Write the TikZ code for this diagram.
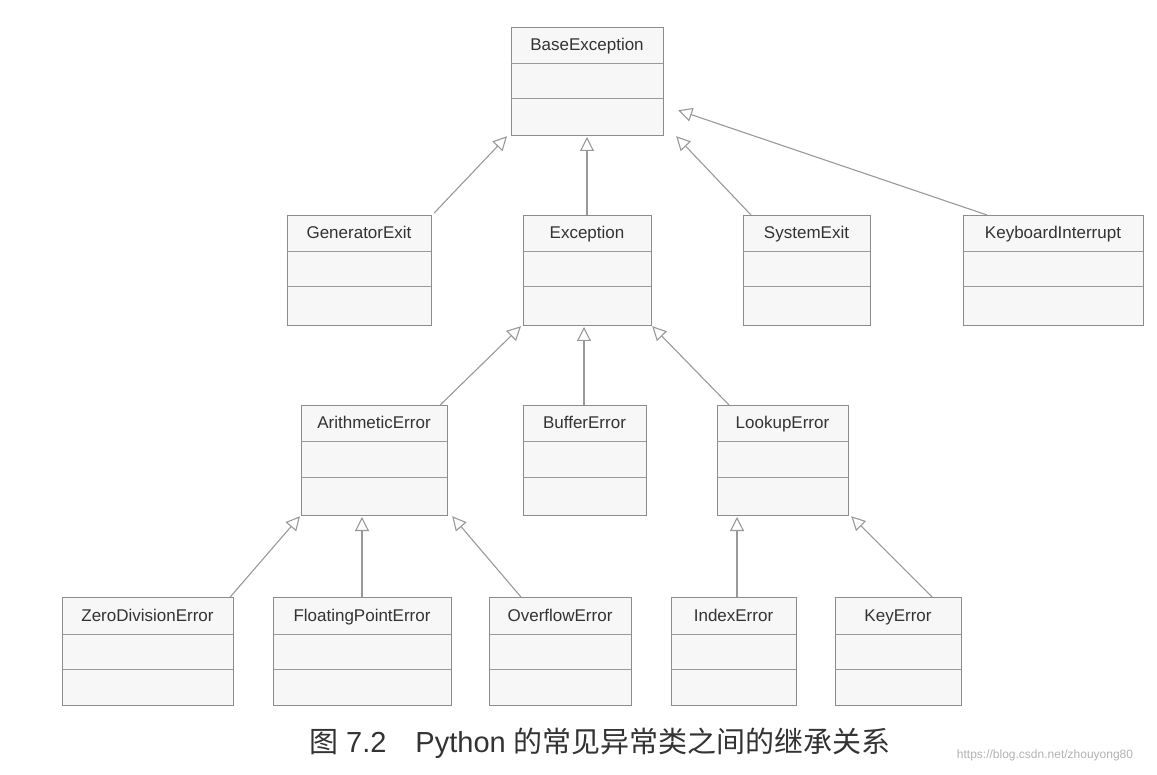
\documentclass[tikz,border=0pt]{standalone}
\usepackage{fontspec}
\setmainfont{Liberation Sans}
\newfontfamily\cjk{Noto Sans CJK SC}
\usetikzlibrary{arrows.meta,calc}
\begin{document}
\begin{tikzpicture}[x=1pt,y=-1pt,
  cls/.style={draw=black!45,fill=black!3,line width=1.2pt,anchor=north west,inner sep=0pt},
  lbl/.style={text=black!80,font=\fontsize{17}{20}\selectfont,anchor=base},
  inh/.style={draw=black!40,line width=1.1pt,-{Triangle[open,length=14pt,width=14pt,fill=white]}},
  sep/.style={draw=black!40,line width=1pt}]
\useasboundingbox (0,0) rectangle (1157,775);
\newcommand\umlbox[6]{% name, x1,y1,x2,y2, text
  \node[cls,minimum width=#4-#2,minimum height=#5-#3] (#1) at (#2,#3) {};
  \node[lbl] (#1t) at ({(#2+#4)/2},#3+24) {#6};
  \draw[sep] (#2,#3+37) -- (#4,#3+37);
  \draw[sep] (#2,#3+72) -- (#4,#3+72);}
\umlbox{be}{511}{27}{663}{135}{BaseException}
\umlbox{ge}{287}{215}{431}{325}{GeneratorExit}
\umlbox{ex}{523}{215}{651}{325}{Exception}
\umlbox{se}{743}{215}{870}{325}{SystemExit}
\umlbox{ki}{963}{215}{1143}{325}{KeyboardInterrupt}
\umlbox{ae}{301}{405}{447}{515}{ArithmeticError}
\umlbox{bu}{523}{405}{646}{515}{BufferError}
\umlbox{lo}{717}{405}{848}{515}{LookupError}
\umlbox{zd}{62}{597}{233}{705}{ZeroDivisionError}
\umlbox{fp}{273}{597}{451}{705}{FloatingPointError}
\umlbox{ov}{489}{597}{631}{705}{OverflowError}
\umlbox{ix}{671}{597}{796}{705}{IndexError}
\umlbox{ke}{835}{597}{961}{705}{KeyError}
\draw[inh] ($(ge.north east)+(2,-2)$) -- ($(be.south west)+(-4,0)$);
\draw[inh] (587,215) -- (587,137);
\draw[inh] ($(se.north west)+(8,0)$) -- ($(be.south east)+(12,0)$);
\draw[inh] ($(ki.north west)+(24,0)$) -- ($(be.south east)+(14,-26)$);
\draw[inh] ($(ae.north east)+(-8,0)$) -- ($(ex.south west)+(-2,0)$);
\draw[inh] (584,405) -- (584,327);
\draw[inh] ($(lo.north west)+(12,0)$) -- ($(ex.south east)+(0,0)$);
\draw[inh] ($(zd.north east)+(-4,0)$) -- ($(ae.south west)+(-1,0)$);
\draw[inh] (362,597) -- (362,517);
\draw[inh] ($(ov.north west)+(32,0)$) -- ($(ae.south east)+(4,0)$);
\draw[inh] (737,597) -- (737,517);
\draw[inh] ($(ke.north east)+(-30,0)$) -- ($(lo.south east)+(2,0)$);
\node[text=black!80,font=\fontsize{29}{34}\selectfont] (cap) at (600,743) {{\cjk 图} 7.2\quad Python {\cjk 的常见异常类之间的继承关系}};
\node[text=black!30,font=\fontsize{12}{14}\selectfont] (wm) at (1045,755) {https://blog.csdn.net/zhouyong80};
\end{tikzpicture}
\end{document}
